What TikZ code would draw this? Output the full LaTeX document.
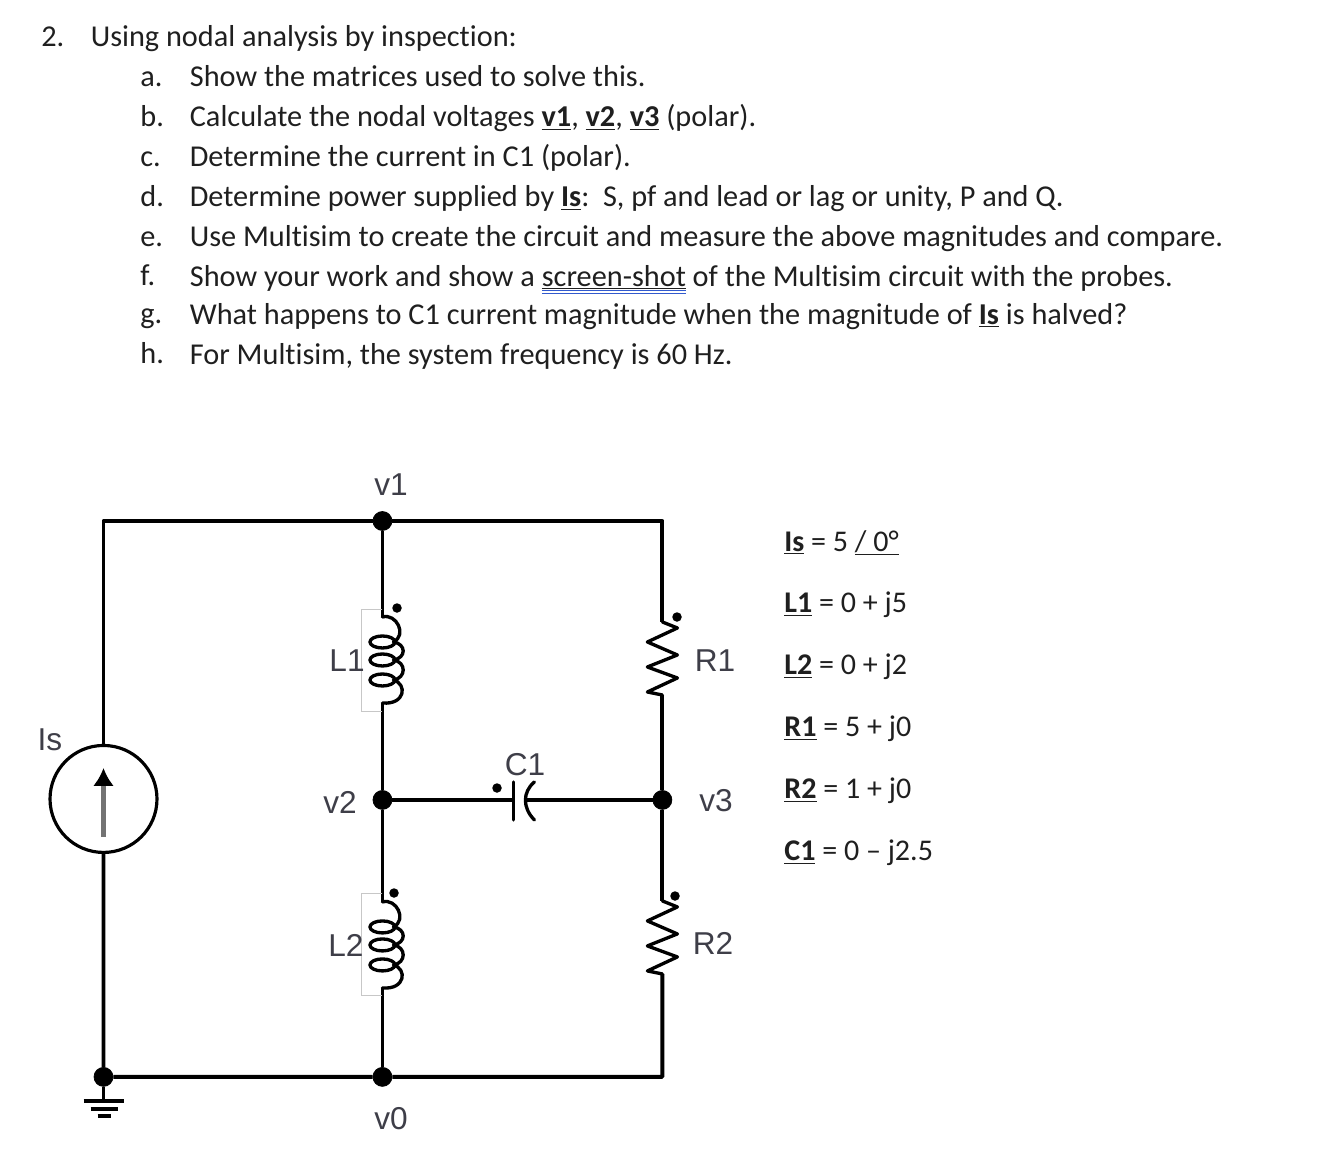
\documentclass[tikz,border=0pt]{standalone}
\usepackage{fontspec}
\setmainfont{Carlito}[Ligatures={TeX,NoCommon}]
\newfontfamily\cktfont{Liberation Sans}
\usetikzlibrary{arrows.meta,calc,positioning}
\definecolor{cktgray}{RGB}{62,62,72}
\definecolor{linkblue}{RGB}{50,90,205}
\newlength{\shotw}
\newcommand{\ubf}[1]{\underline{\smash{\textbf{#1}}}}
\newcommand{\linkul}[1]{\settowidth{\shotw}{#1}%
	\rlap{\rule[-1.5pt]{\shotw}{0.5pt}}%
	\rlap{\textcolor{linkblue}{\rule[-3.0pt]{\shotw}{0.9pt}}}%
	\rlap{\textcolor{linkblue}{\rule[-4.8pt]{\shotw}{0.9pt}}}#1}

\begin{document}
\begin{tikzpicture}[x=0.02cm,y=-0.02cm,on grid,>=latex]
	\tikzstyle{txt} = [inner sep=0pt, anchor=base west, font=\fontsize{17.24}{20}\selectfont, text=black!88]
	\tikzstyle{eqn} = [txt, font=\fontsize{17.1}{20}\selectfont]
	\tikzstyle{wire} = [line width=2.2pt, line join=round, black]
	\tikzstyle{sym} = [line width=1.9pt, line join=round, line cap=round, black]
	\tikzstyle{junc} = [draw, circle, fill=black, minimum size=0.38cm, inner sep=0pt, anchor=center]
	\tikzstyle{pol} = [circle, fill=black, minimum size=0.19cm, inner sep=0pt]
	\tikzstyle{lbl} = [inner sep=0pt, font=\cktfont\fontsize{18}{20}\selectfont, text=cktgray]
	\tikzstyle{src} = [draw, circle, line width=1.8pt, minimum size=2.14cm, inner sep=0pt, anchor=center]

	\useasboundingbox (0,0) rectangle (1325,1152);

	% question text
	\node [txt] (q2) at (41,47) {2.};
	\node [txt] (qhead) at (90.5,47) {Using nodal analysis by inspection:};
	\node [txt] (la) at (140,87) {a.};
	\node [txt, below = 0.8cm of la.base west, anchor=base west] (lb) {b.};
	\node [txt, below = 0.8cm of lb.base west, anchor=base west] (lc) {c.};
	\node [txt, below = 0.8cm of lc.base west, anchor=base west] (ld) {d.};
	\node [txt, below = 0.8cm of ld.base west, anchor=base west] (le) {e.};
	\node [txt, below = 0.78cm of le.base west, anchor=base west] (lf) {f.};
	\node [txt, below = 0.76cm of lf.base west, anchor=base west] (lg) {g.};
	\node [txt, below = 0.8cm of lg.base west, anchor=base west] (lh) {h.};
	\node [txt] (ta) at (189.5,87) {Show the matrices used to solve this.};
	\node [txt] (tb) at (189.5,127) {Calculate the nodal voltages \ubf{v1}, \ubf{v2}, \ubf{v3} (polar).};
	\node [txt] (tc) at (189.5,167) {Determine the current in C1 (polar).};
	\node [txt] (td) at (189.5,207) {Determine power supplied by \ubf{Is}:\ \ S, pf and lead or lag or unity, P and Q.};
	\node [txt] (te) at (189.5,247) {Use Multisim to create the circuit and measure the above magnitudes and compare.};
	\node [txt] (tf) at (189.5,286) {Show your work and show a \linkul{screen-shot} of the Multisim circuit with the probes.};
	\node [txt] (tg) at (189.5,324) {What happens to C1 current magnitude when the magnitude of \ubf{Is} is halved?};
	\node [txt] (th) at (189.5,364) {For Multisim, the system frequency is 60 Hz.};

	% circuit nodes
	\node [coordinate] (tl) at (103.5,521) {};
	\node [right = 5.58cm of tl, junc] (v1) {};
	\node [coordinate, right = 5.6cm of v1] (tr) {};
	\node [below = 5.58cm of v1, junc] (v2) {};
	\node [below = 5.58cm of tr, junc] (v3) {};
	\node [below = 5.54cm of v2, junc] (v0) {};
	\node [coordinate, below = 5.54cm of v3] (br) {};
	\node [below = 11.12cm of tl, junc] (gj) {};
	\node [below = 5.56cm of tl, src] (is) {};
	\node [coordinate, below = 0.48cm of gj] (gt) {};

	\node [coordinate, below = 1.92cm of v1] (l1a) {};
	\node [coordinate, below = 1.72cm of l1a] (l1b) {};
	\node [coordinate, below = 2.04cm of v2] (l2a) {};
	\node [coordinate, below = 1.72cm of l2a] (l2b) {};
	\node [coordinate, below = 2.02cm of tr] (r1a) {};
	\node [coordinate, below = 1.46cm of r1a] (r1b) {};
	\node [coordinate, below = 2.02cm of v3] (r2a) {};
	\node [coordinate, below = 1.46cm of r2a] (r2b) {};
	\node [coordinate, right = 2.62cm of v2] (c1a) {};
	\node [coordinate, right = 0.24cm of c1a] (c1b) {};

	\node [pol] (d1) at (397,608) {};
	\node [pol] (d2) at (394,893) {};
	\node [pol] (d3) at (677,617) {};
	\node [pol] (d4) at (675,896) {};
	\node [pol] (d5) at (497,788) {};

	% wires
	\draw [wire] (is) -- (tl) -- (v1) -- (tr) -- (r1a);
	\draw [wire] (is) -- (gj) -- (v0) -- (br) -- (r2b);
	\draw [wire] (v1) -- (l1a);
	\draw [wire] (l1b) -- (v2) -- (l2a);
	\draw [wire] (l2b) -- (v0);
	\draw [wire] (r1b) -- (v3) -- (r2a);
	\draw [wire] (v2) -- (c1a);
	\draw [wire] (c1b) -- (v3);

	% inductors
	\foreach \c in {l1a,l2a}{
		\begin{scope}[shift={(\c)}]
			\draw [black!22, line width=0.5pt] (0,-8) -- (-21,-8) -- (-21,94) -- (0,94);
			\draw [sym] (0,0) .. controls (14,-4) and (25,18) .. (11,25)
				.. controls (24,27) and (24,41) .. (11,43)
				.. controls (24,45) and (24,61) .. (11,63)
				.. controls (25,67) and (23,88) .. (0,86);
			\foreach \dy in {25,43,63}
				\draw [sym] (0,\dy) ellipse [x radius=12.5, y radius=6];
		\end{scope}
	}

	% resistors
	\foreach \c in {r1a,r2a}
		\draw [sym] (\c) -- ++(15,6) -- ++(-30,14) -- ++(30,13) -- ++(-30,12) -- ++(30,11) -- ++(-30,14) -- ++(15,3);

	% capacitor
	\draw [sym] ($(c1a)+(0,-18)$) -- ($(c1a)+(0,20)$);
	\draw [sym] ($(c1b)+(9,-18)$) .. controls ($(c1b)+(-3,-8)$) and ($(c1b)+(-3,8)$) .. ($(c1b)+(9,20)$);

	% source arrow
	\draw [-{Latex[length=0.36cm,width=0.42cm,color=black]}, line width=2.5pt, black!55] ($(is)+(0,38)$) -- ($(is)+(0,-31)$);

	% ground
	\draw [wire] (gj) -- (gt);
	\draw [wire] ($(gt)+(-20,0)$) -- ($(gt)+(20,0)$);
	\draw [wire] ($(gt)+(-13,8)$) -- ($(gt)+(14,8)$);
	\draw [wire] ($(gt)+(-6,15)$) -- ($(gt)+(7,15)$);

	% labels
	\node [lbl] (lv1) at (391,485) {v1};
	\node [lbl] (lis) at (50,740) {Is};
	\node [lbl] (lv2) at (340,802) {v2};
	\node [lbl] (lv3) at (716,801) {v3};
	\node [lbl] (lc1) at (525,765) {C1};
	\node [lbl] (lr1) at (715,661) {R1};
	\node [lbl] (lr2) at (713,943) {R2};
	\node [lbl] (ll1) at (347,661) {L1};
	\node [lbl] (ll2) at (346,945) {L2};
	\node [lbl] (lv0) at (391,1119) {v0};

	% element values
	\node [eqn] (eis) at (784,551) {\ubf{Is} = 5 \underline{/ 0°}};
	\node [eqn, below = 1.24cm of eis.base west, anchor=base west] (el1) {\ubf{L1} = 0 + j5};
	\node [eqn, below = 1.24cm of el1.base west, anchor=base west] (el2) {\ubf{L2} = 0 + j2};
	\node [eqn, below = 1.24cm of el2.base west, anchor=base west] (er1) {\ubf{R1} = 5 + j0};
	\node [eqn, below = 1.24cm of er1.base west, anchor=base west] (er2) {\ubf{R2} = 1 + j0};
	\node [eqn, below = 1.24cm of er2.base west, anchor=base west] (ec1) {\ubf{C1} = 0 – j2.5};
\end{tikzpicture}
\end{document}
